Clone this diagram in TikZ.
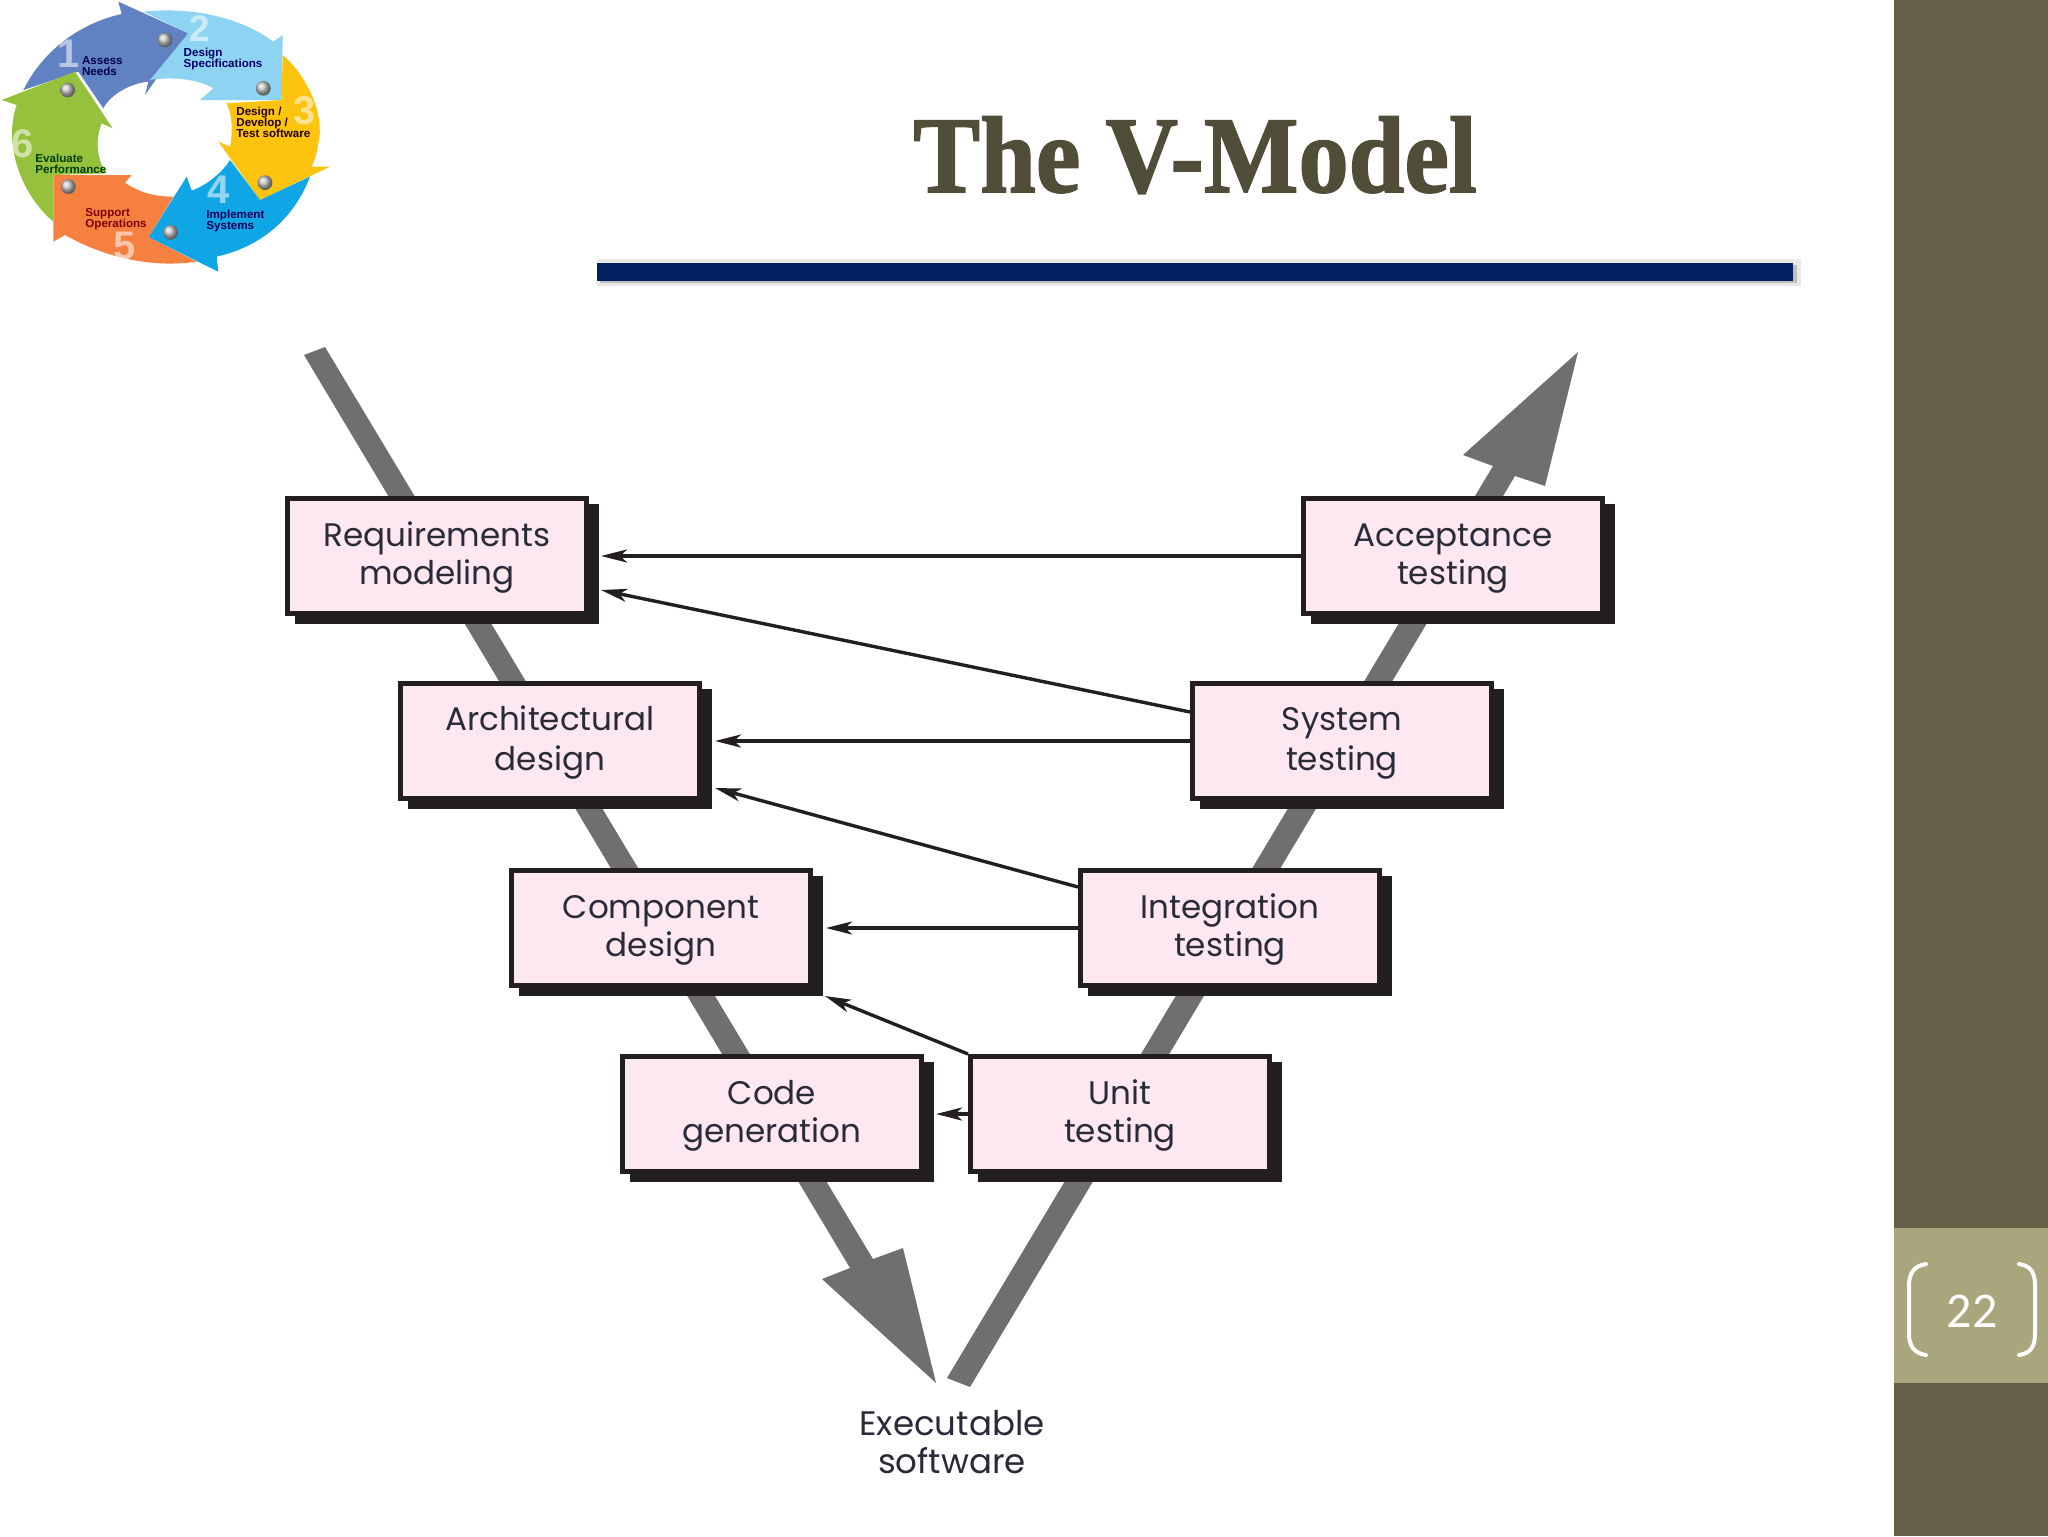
\documentclass[tikz,border=0pt]{standalone}
\usepackage{fontspec}
\usetikzlibrary{shadows,arrows.meta,calc}
\setmainfont{Liberation Sans}
\newfontfamily\vfont{Poppins}
\newfontfamily\ttlfont{Liberation Serif}[BoldFeatures={FakeBold=1.6}]
\newfontfamily\numfont{Carlito}
\definecolor{band}{HTML}{665F47}
\definecolor{bandlight}{HTML}{A9A57C}
\definecolor{ttlcol}{HTML}{504D38}
\definecolor{barcol}{HTML}{002060}
\definecolor{vgray}{HTML}{706E71}
\definecolor{boxfill}{HTML}{FDE8F1}
\definecolor{boxline}{HTML}{231F20}
\definecolor{vtext}{HTML}{2A2A38}
\newcommand\vstr{\rule[-4.3pt]{0pt}{18.3pt}}
\tikzset{
  stage/.style={draw=boxline,line width=2.5pt,fill=boxfill,minimum width=149.5pt,minimum height=57.5pt,
    inner sep=0pt,align=center,text=vtext,font=\vfont\fontsize{16.3}{18.7}\selectfont,
    copy shadow={shadow xshift=5pt,shadow yshift=-4pt,fill=boxline,draw=boxline,opacity=1}},
  conn/.style={draw=boxline,line width=1.7pt,-{Stealth[length=13pt,width=6.5pt,inset=3.5pt]}},
  vleg/.style={fill=vgray,draw=none},
  logolab/.style={inner sep=0pt,anchor=west,align=left,font=\bfseries\fontsize{5.8}{5.5}\selectfont},
  logonum/.style={inner sep=0pt,text=white,text opacity=.55,font=\bfseries\fontsize{20}{20}\selectfont},
  ballk/.style={ball color=gray!45}
}
\begin{document}
\begin{tikzpicture}[x=.5pt,y=-.5pt]
\useasboundingbox (0,0) rectangle (2048,1536);
\fill[white] (0,0) rectangle (2048,1536);
% side band
\fill[band] (1894,0) rectangle (2048,1536);
\fill[bandlight] (1894,1228) rectangle (2048,1383);
\draw[white,line width=2pt,line cap=round] (1926,1264) .. controls (1913,1266) and (1909,1274) .. (1909,1286) -- (1909,1333) .. controls (1909,1345) and (1913,1353) .. (1926,1355);
\draw[white,line width=2pt,line cap=round] (2019,1264) .. controls (2032,1266) and (2035,1274) .. (2035,1286) -- (2035,1333) .. controls (2035,1345) and (2032,1353) .. (2019,1355);
\node[inner sep=0pt,text=white,font=\numfont\fontsize{25}{25}\selectfont] (pageno) at (1972,1311) {22};
% title
\node[inner sep=0pt,anchor=base,xscale=.92,text=ttlcol,font=\ttlfont\bfseries\fontsize{54.5}{54.5}\selectfont] (title) at (1195,192) {The V-Model};
\fill[gray,opacity=.18] (597,259) rectangle (1801,286);
\fill[gray,opacity=.4] (600,265) rectangle (1797,283);
\fill[barcol] (597,263) rectangle (1793,281);
% logo
\begin{scope}[x=.16667pt,y=-.16667pt]
\fill[fill={rgb,255:red,97;green,130;blue,194}] (70,270) .. controls (130,150) and (240,70) .. (365,42) -- (355,5) -- (565,100) -- (435,285) -- (445,245) .. controls (390,250) and (330,285) .. (310,325) -- (235,215) -- cycle;
\fill[fill={rgb,255:red,143;green,211;blue,243}] (430,35) .. controls (570,20) and (720,50) .. (820,125) -- (848,105) -- (845,300) -- (600,300) -- (640,265) .. controls (590,235) and (510,230) .. (450,240) -- (565,100) -- cycle;
\fill[fill={rgb,255:red,252;green,195;blue,15}] (848,165) .. controls (925,230) and (975,350) .. (955,430) .. controls (950,460) and (945,480) .. (935,500) -- (990,500) -- (780,600) -- (655,425) -- (690,440) .. controls (700,390) and (695,340) .. (680,310) -- (845,300) -- cycle;
\fill[fill={rgb,255:red,16;green,165;blue,229}] (930,530) .. controls (880,660) and (780,740) .. (650,770) -- (655,815) -- (445,712) -- (560,530) -- (575,572) .. controls (620,555) and (665,520) .. (690,480) -- (780,600) -- cycle;
\fill[fill={rgb,255:red,245;green,128;blue,64}] (590,785) .. controls (450,805) and (310,770) .. (195,705) -- (160,725) -- (160,525) -- (395,525) -- (375,548) .. controls (420,580) and (470,590) .. (520,590) -- (445,712) -- cycle;
\fill[fill={rgb,255:red,149;green,193;blue,61}] (160,665) .. controls (60,580) and (10,430) .. (50,315) -- (5,300) -- (225,215) -- (338,385) -- (305,370) .. controls (285,420) and (290,480) .. (320,520) -- (160,525) -- cycle;
\shade[ballk] (495,120) circle (22);
\shade[ballk] (203,270) circle (22);
\shade[ballk] (790,265) circle (22);
\shade[ballk] (795,548) circle (22);
\shade[ballk] (205,560) circle (22);
\shade[ballk] (512,697) circle (22);
\node[logonum] (n1) at (207,160) {1};
\node[logonum,font=\bfseries\fontsize{18.5}{18.5}\selectfont] (n2) at (600,85) {2};
\node[logonum] (n3) at (915,332) {3};
\node[logonum] (n4) at (655,568) {4};
\node[logonum] (n5) at (375,737) {5};
\node[logonum] (n6) at (68,432) {6};
\node[logolab,text=blue!30!black] (l1) at (245,198) {Assess\\Needs};
\node[logolab,text=blue!40!black] (l2) at (550,176) {Design\\Specifications};
\node[logolab,text=black!85!red] (l3) at (708,368) {Design /\\Develop /\\Test software};
\node[logolab,text=blue!35!black] (l4) at (618,662) {Implement\\Systems};
\node[logolab,text=red!50!black] (l5) at (255,657) {Support\\Operations};
\node[logolab,text=green!25!black] (l6) at (105,491) {Evaluate\\Performance};
\end{scope}
% V legs
\fill[vleg] (304,355) -- (325,347) -- (873,1259) -- (903,1248) -- (936,1383) -- (822,1279) -- (850,1268) -- cycle;
\fill[vleg] (947,1378) -- (970,1387) -- (1515,476) -- (1545,486) -- (1578,352) -- (1463,455) -- (1493,466) -- cycle;
% stages
\node[stage] (req) at (437,556) {\vstr Requirements\\\vstr modeling};
\node[stage] (arch) at (550,741) {\vstr Architectural\\[1.3pt]\vstr design};
\node[stage] (comp) at (661,928) {\vstr Component\\\vstr design};
\node[stage] (code) at (772,1114) {\vstr Code\\\vstr generation};
\node[stage] (unit) at (1120,1114) {\vstr Unit\\\vstr testing};
\node[stage] (integ) at (1230,928) {\vstr Integration\\\vstr testing};
\node[stage] (sys) at (1342,741) {\vstr System\\[1.3pt]\vstr testing};
\node[stage] (acc) at (1453,556) {\vstr Acceptance\\\vstr testing};
\node[inner sep=0pt,align=center,text=vtext,font=\vfont\fontsize{17}{19.3}\selectfont] (exe) at (952,1442) {Executable\\software};
% connectors
\draw[conn] (acc.west) -- ($(req.east)+(12,0)$);
\draw[conn] ($(sys.west)+(0,-29)$) -- ($(req.east)+(12,34)$);
\draw[conn] (sys.west) -- ($(arch.east)+(13,0)$);
\draw[conn] ($(integ.west)+(0,-41)$) -- ($(arch.east)+(13,47)$);
\draw[conn] (integ.west) -- ($(comp.east)+(13,0)$);
\draw[conn] (unit.north west) -- ($(comp.east)+(12,68)$);
\draw[conn] (unit.west) -- ($(code.east)+(12,0)$);
\end{tikzpicture}
\end{document}
